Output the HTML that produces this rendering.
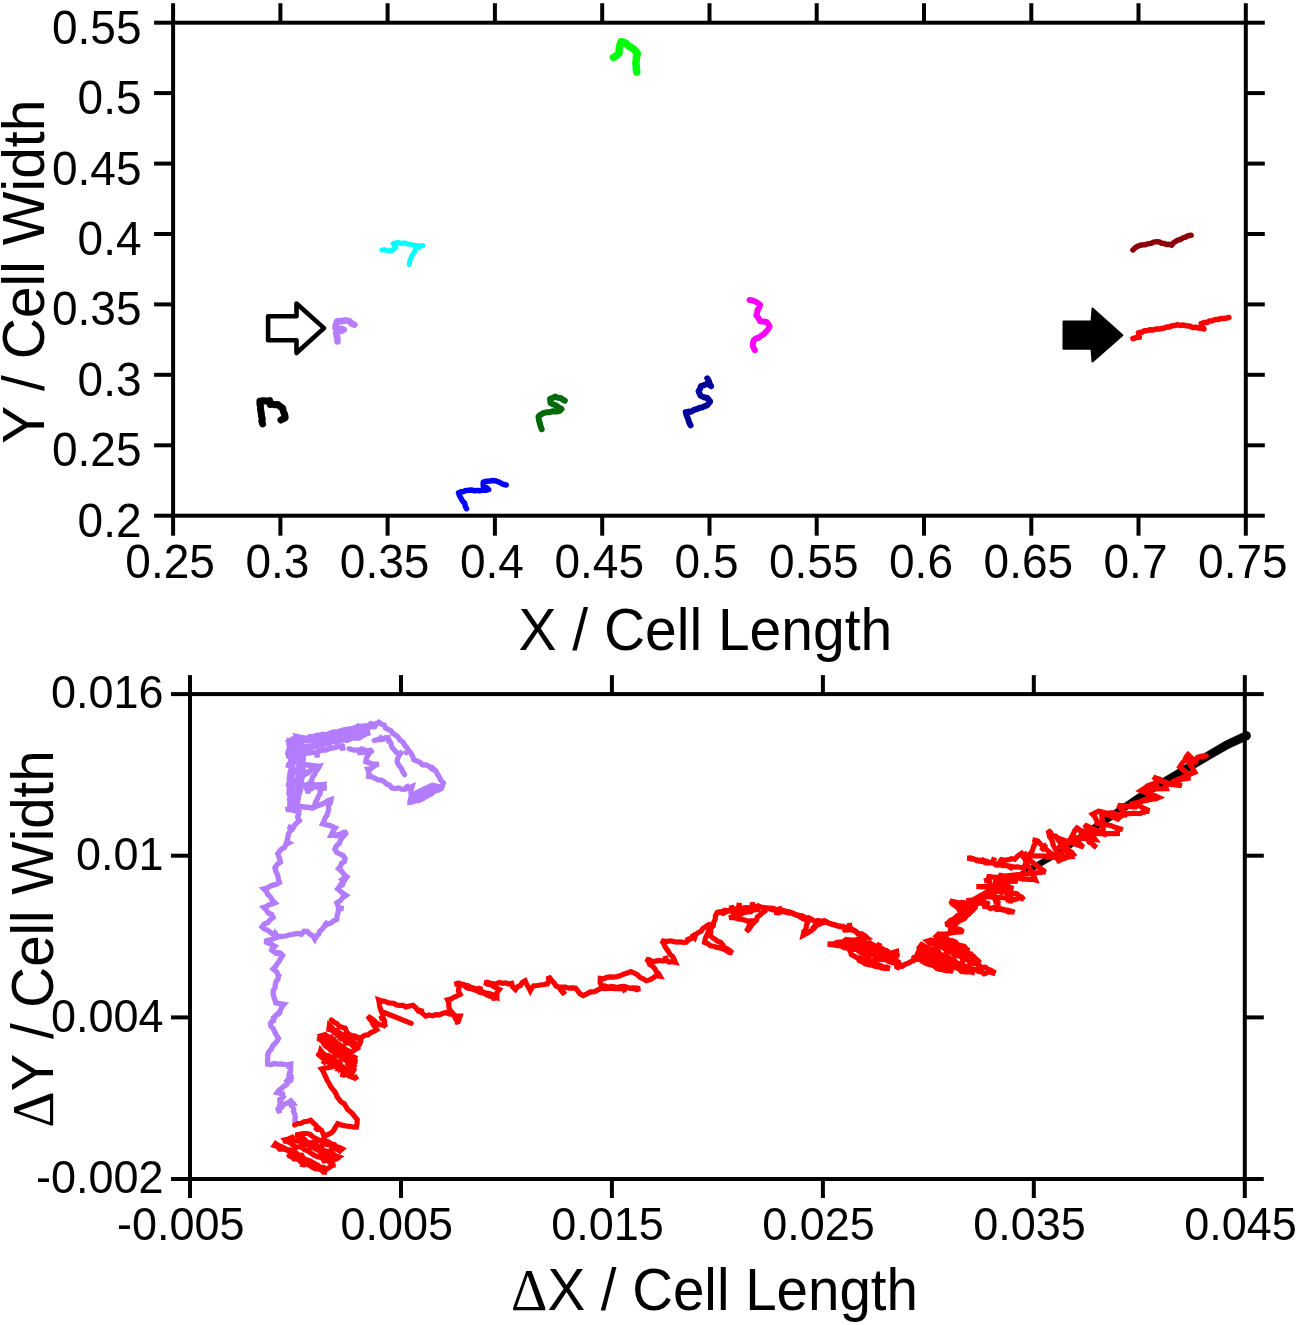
<!DOCTYPE html>
<html><head><meta charset="utf-8"><style>
html,body{margin:0;padding:0;background:#fff;}
svg{display:block;font-family:"Liberation Sans",Arial,sans-serif;}
</style></head><body>
<svg width="1300" height="1325" viewBox="0 0 1300 1325">
<rect width="1300" height="1325" fill="#fff"/>
<polyline points="613.5,57.5 616.5,55.5 619.1,53.2 619.1,49.7 619.6,46.2 621.2,41.8 624.5,42.4 626.8,44.1 628.8,46.2 631.9,47.8 634.7,49.9 637.4,53.7 636.4,56.9 636.3,60.2 635.8,63.4 636.3,66.6 636.3,69.3 636.8,72.0" fill="none" stroke="#00ff08" stroke-width="7.5" stroke-linecap="round" stroke-linejoin="round" />
<polyline points="381.8,249.9 385.1,249.8 388.2,250.8 391.5,250.5 393.8,249.1 395.8,247.2 393.2,243.5 398.0,242.4 401.2,243.3 404.5,243.0 407.7,244.0 410.6,244.3 413.4,245.2 416.3,245.6 419.6,246.0 422.8,245.6 420.3,246.0 418.3,247.9 415.8,248.3 414.2,252.6 412.4,255.2 410.9,258.0 409.8,261.2 409.3,264.5" fill="none" stroke="#00ffff" stroke-width="5" stroke-linecap="round" stroke-linejoin="round" />
<polyline points="354.4,324.7 351.8,323.6 349.8,321.6 347.2,320.5 344.7,320.5 342.2,321.2 339.6,320.9 337.1,321.3 335.9,324.6 335.4,328.0 338.1,328.9 341.1,328.8 343.8,329.8 341.4,330.9 338.7,331.3 336.2,332.3 336.5,335.4 337.5,338.4 337.5,341.6" fill="none" stroke="#b87cff" stroke-width="6.5" stroke-linecap="round" stroke-linejoin="round" />
<polyline points="262.6,423.8 261.8,421.3 262.3,418.7 261.5,416.2 261.2,412.7 260.5,409.2 260.5,406.5 259.9,403.9 259.9,401.2 263.1,400.8 266.4,401.1 269.6,400.6 270.2,404.4 272.7,404.1 275.2,404.8 277.7,404.4 280.0,406.4 282.5,408.2 283.4,411.5 284.7,414.6 285.2,417.8 280.9,420.0" fill="none" stroke="#000000" stroke-width="7" stroke-linecap="round" stroke-linejoin="round" />
<polyline points="466.5,508.7 465.2,506.1 464.7,503.2 462.5,501.0 461.0,498.2 459.5,495.5 458.5,492.7 460.9,491.7 463.5,491.7 465.8,490.4 468.4,490.2 471.2,489.9 473.9,490.7 476.7,490.4 479.5,490.8 482.5,490.1 485.7,490.2 488.7,489.6 486.2,487.4 483.2,485.9 483.2,482.2 486.5,481.2 489.9,481.0 493.0,480.6 496.1,481.0 499.6,482.3 502.8,484.1 506.2,485.0" fill="none" stroke="#0000ff" stroke-width="5.5" stroke-linecap="round" stroke-linejoin="round" />
<polyline points="541.7,429.3 540.6,426.3 539.8,423.3 538.9,419.9 538.5,416.4 540.7,414.7 543.1,413.2 546.5,412.3 550.0,412.2 553.2,411.2 556.5,411.5 559.7,410.8 561.5,409.0 558.6,407.4 556.0,405.3 553.2,404.4 550.5,403.0 550.0,398.8 552.7,398.0 555.1,396.5 557.7,397.7 560.6,397.9 562.6,399.5 564.8,400.7" fill="none" stroke="#006a08" stroke-width="6" stroke-linecap="round" stroke-linejoin="round" />
<polyline points="690.6,425.4 689.1,422.4 688.2,419.1 686.7,415.8 685.7,412.2 688.4,411.6 691.1,411.7 694.1,409.9 697.5,408.8 699.9,407.7 702.5,407.3 704.8,406.0 707.3,405.3 710.2,401.4 707.3,398.0 703.7,397.2 700.4,395.5 698.5,391.1 700.1,388.8 700.9,386.2 704.2,385.1 707.3,383.7 711.2,386.2 709.7,383.7 708.8,380.8 707.3,378.3" fill="none" stroke="#00009a" stroke-width="6" stroke-linecap="round" stroke-linejoin="round" />
<polyline points="749.5,300.0 752.6,300.4 755.4,301.6 757.9,303.0 760.1,304.8 759.2,307.6 757.5,310.1 757.1,312.8 756.4,315.4 758.5,318.1 760.1,321.2 763.6,321.5 767.0,322.2 768.5,324.2 769.6,326.5 768.1,329.4 765.9,331.7 763.6,334.2 760.6,336.0 758.6,337.8 755.8,338.4 753.8,340.2 752.9,343.0 752.7,346.0 754.8,350.2" fill="none" stroke="#ff00ff" stroke-width="6" stroke-linecap="round" stroke-linejoin="round" />
<polyline points="1132.9,249.9 1135.5,247.5 1138.5,245.8 1141.5,245.0 1144.7,244.8 1147.7,243.9 1150.8,243.4 1153.8,242.1 1156.9,241.6 1159.4,242.0 1161.7,243.2 1164.3,243.5 1166.7,244.5 1169.3,244.3 1171.7,245.3 1173.2,243.1 1175.4,241.6 1177.8,240.2 1180.5,239.5 1182.8,237.9 1185.6,237.2 1188.2,235.7 1191.1,235.2" fill="none" stroke="#8c0008" stroke-width="5.5" stroke-linecap="round" stroke-linejoin="round" />
<polyline points="1132.9,338.7 1136.1,337.6 1139.4,337.3 1138.5,332.7 1141.6,332.2 1144.5,330.7 1147.7,330.4 1150.4,329.8 1153.3,329.9 1155.9,329.0 1158.8,329.1 1161.5,328.5 1164.2,328.1 1166.7,327.0 1169.4,326.9 1171.9,325.7 1174.6,325.6 1177.2,324.8 1180.3,325.4 1183.4,325.1 1186.5,325.8 1189.6,326.0 1192.4,327.4 1195.6,327.2 1198.5,328.1 1201.3,328.2 1204.0,329.0 1202.3,326.4 1201.2,323.5 1203.9,322.6 1206.9,322.6 1209.4,321.0 1212.3,320.7 1215.2,319.5 1218.5,319.4 1221.5,318.4 1225.2,318.4 1228.9,317.5" fill="none" stroke="#ff0000" stroke-width="5.5" stroke-linecap="round" stroke-linejoin="round" />
<polygon points="268.1,316.2 296.5,316.2 296.5,303.5 324.0,328.1 296.5,353.0 296.5,340.3 268.1,340.3" fill="none" stroke="#000" stroke-width="4.6" stroke-linejoin="round"/>
<polygon points="1063.5,321.6 1091.5,321.6 1092.5,308.5 1122.4,335.2 1092.5,361.5 1091.5,348.7 1063.5,348.7" fill="#000" stroke="#000" stroke-width="2" stroke-linejoin="round"/>
<polyline points="294.8,1121.2 295.2,1117.9 295.0,1114.6 293.5,1111.5 293.8,1108.2 293.5,1104.9 288.9,1105.6 293.5,1104.1 290.8,1100.8 287.8,1102.9 284.2,1104.2 284.2,1101.6 283.7,1104.7 281.7,1107.2 278.5,1109.0 279.8,1113.3 278.0,1109.2 279.5,1106.1 280.2,1103.0 279.8,1099.7 282.7,1097.3 284.9,1098.4 282.9,1096.6 282.6,1094.0 277.2,1092.7 279.1,1090.2 281.6,1088.4 283.7,1086.3 286.5,1084.8 288.2,1082.1 285.2,1079.1 288.7,1081.8 290.8,1080.4 290.9,1077.1 286.6,1077.1 290.9,1076.7 290.0,1073.9 287.1,1072.8 290.0,1073.3 290.6,1070.6 290.6,1067.4 286.9,1066.3 290.6,1066.8 290.8,1064.1 287.5,1064.6 284.2,1064.4 280.9,1064.0 277.6,1064.1 274.3,1063.5 271.0,1064.6 267.7,1064.1 267.5,1060.9 267.8,1057.8 267.7,1054.6 269.0,1051.6 271.3,1049.2 272.5,1046.1 274.8,1043.6 277.0,1041.2 278.5,1038.3 275.8,1034.2 274.5,1031.5 273.3,1028.7 271.0,1026.5 270.4,1023.4 272.4,1020.7 274.0,1023.3 272.8,1020.4 274.3,1018.0 272.9,1015.3 274.7,1017.4 276.1,1015.1 278.8,1012.9 281.2,1014.9 278.9,1012.8 280.5,1010.0 281.8,1006.8 284.0,1004.3 279.9,1003.6 275.8,1003.0 274.9,999.8 273.8,996.7 273.1,993.5 273.3,990.3 275.1,987.7 275.2,984.5 276.2,981.5 278.0,978.9 278.5,975.8 280.5,977.3 278.5,975.7 276.6,971.8 273.1,969.0 275.4,966.6 277.3,963.8 279.2,961.1 280.9,958.2 282.6,955.4 280.3,953.1 277.2,952.6 276.6,955.7 276.6,952.4 274.1,952.0 271.7,950.0 273.0,947.4 271.4,949.6 274.9,946.2 271.7,944.3 268.2,943.0 264.8,941.5 268.0,940.2 271.3,939.5 274.6,938.4 277.7,936.9" fill="none" stroke="#b27cfc" stroke-width="5.3" stroke-linecap="round" stroke-linejoin="miter" stroke-miterlimit="2.5"/>
<polyline points="277.7,936.9 275.7,934.2 274.9,937.4 275.0,933.8 272.3,933.8 269.9,931.8 267.3,930.1 264.3,929.0 262.0,926.8 264.3,923.9 267.9,922.6 270.2,919.6 273.1,917.5 271.5,914.3 268.1,912.8 266.2,909.8 263.8,907.4 266.7,906.5 269.2,904.7 272.1,903.9 274.9,902.8 272.3,900.3 270.6,897.1 267.9,894.7 266.4,891.4 263.8,888.9 267.1,888.1 270.0,886.2 273.2,885.1 276.5,884.2 279.5,882.5 278.3,878.8 277.7,875.0 275.9,871.5 274.9,867.7 277.2,864.4 280.5,862.2 279.3,857.9 277.7,853.8 279.5,851.1 281.7,849.0 284.6,847.4 285.9,844.4 288.8,842.8 286.7,841.8 287.7,838.2 288.3,834.6 289.9,831.2 292.3,828.6 287.8,826.2 292.7,828.6 294.3,825.6 296.7,822.9 299.4,820.6 297.7,817.3 298.5,813.4 296.5,814.3 298.5,813.4 297.3,810.0 295.1,809.7 297.3,809.7" fill="none" stroke="#b27cfc" stroke-width="5.3" stroke-linecap="round" stroke-linejoin="miter" stroke-miterlimit="2.5"/>
<polyline points="277.7,936.9 281.4,936.3 285.2,936.2 288.8,935.0 291.9,934.5 294.9,933.8 298.0,933.4 301.4,934.2 304.0,931.3 307.2,931.4 309.6,933.9 312.7,935.8 314.6,938.8 315.7,935.8 315.2,939.1 316.3,936.3 318.7,934.3 319.7,931.3 322.1,929.3 323.8,926.8 326.8,924.5 324.4,921.8 327.4,924.1 330.5,923.4 333.3,920.9 336.8,919.4 337.1,915.7 338.2,912.0 338.6,908.3 343.6,908.6 338.6,907.5 336.8,902.8 340.2,900.8 342.7,897.6 346.0,895.4 343.0,893.5 343.7,891.2 342.7,893.4 340.4,891.2 337.7,888.9 339.6,886.6 341.3,884.0 345.0,885.3 341.5,883.8 343.3,881.7 340.3,877.7 343.4,881.5 345.1,879.3 346.9,876.9 344.0,874.3 341.6,871.1 338.6,868.6 340.5,866.3 341.5,863.4 344.4,861.6 345.1,858.5 343.1,855.6 339.8,854.0 336.7,852.4 334.9,849.2 336.4,845.9 339.3,843.5 340.5,840.0 342.5,837.3 344.7,834.7 346.9,832.2 343.6,832.3 340.6,833.8 337.6,835.2 337.2,832.4 337.0,835.2 334.3,835.4 331.0,835.4 332.8,831.5 335.3,828.0 332.3,826.5 329.2,825.3 325.8,824.7 322.6,823.8 324.1,821.0 325.1,818.0 326.8,815.3 328.0,812.2 328.7,809.0 328.4,805.6 330.5,802.8 331.0,799.5 327.8,800.5 325.2,802.7 322.2,804.0 319.1,805.2 316.0,806.4 313.1,808.0 314.8,805.2 315.6,802.1 317.3,799.4 318.3,796.3 320.1,793.6 320.2,790.1 322.9,787.9 326.9,788.1 323.2,787.8 323.7,784.7 320.6,785.6 317.7,787.3 314.1,786.6 311.4,788.8 308.0,788.9 308.2,793.7 307.5,788.9 305.0,790.0 306.8,787.5 307.9,784.7 310.3,782.5 311.8,779.9 312.6,776.8 314.7,774.5 315.6,771.5 317.7,769.2 319.1,766.5 315.7,767.4 312.4,768.6 309.7,771.1 309.5,768.9 309.5,771.4 306.6,772.6 303.1,773.3 306.1,776.7 303.0,773.5 300.0,775.0 301.5,778.2 299.9,775.0" fill="none" stroke="#b27cfc" stroke-width="5.3" stroke-linecap="round" stroke-linejoin="miter" stroke-miterlimit="2.5"/>
<polyline points="292.2,741.1 295.2,740.2 298.4,740.1 301.2,738.4 304.3,738.1 307.4,737.8 310.3,736.5 313.5,736.9 316.4,735.4 319.5,735.2 322.5,734.3 325.8,735.0 325.9,739.6 326.5,734.8 328.7,733.7 331.6,732.6 334.6,731.8 337.8,731.6 340.8,730.8 343.7,729.9 346.8,729.3 349.8,728.8 353.0,728.5 355.8,727.2 358.8,726.3 359.7,723.9 359.2,726.2 362.0,726.3 361.5,729.4 362.0,726.3 365.0,725.8 368.2,725.7 370.9,723.7 374.3,724.6 377.1,723.1 374.6,726.8 371.4,726.6 368.5,727.2 365.9,730.0 362.7,729.5 360.0,730.9 356.7,730.2 353.9,731.3 350.9,732.1 347.7,731.3 345.2,734.0 341.8,732.9 339.0,734.3 340.5,737.5 338.1,734.4 336.0,734.7 333.2,736.0 330.2,736.3 327.2,736.6 324.4,738.1 321.3,738.1 318.5,739.4 315.4,739.7 312.4,739.8 309.4,740.3 306.4,740.7 303.2,740.5 303.0,737.8 302.3,740.7 300.6,742.8 297.6,743.2 294.7,743.8 298.0,748.0 301.1,747.9 303.9,746.2 307.0,746.3 310.1,746.0 313.1,745.2 316.1,744.5 318.9,743.2 321.9,742.3 324.9,742.0 328.0,741.9 330.8,740.3 333.9,739.7 337.1,740.0 340.0,738.9 343.0,738.4 346.0,737.6 349.0,737.2 352.0,736.6 355.2,737.0 357.9,734.8 361.0,734.5 362.3,738.1 361.5,734.4 364.0,733.9 366.9,732.9 370.0,732.7 365.8,734.1 361.9,736.3 359.1,738.0 355.9,737.8 352.8,738.1 349.9,739.4 347.0,740.4 343.7,739.7 340.7,740.5 337.7,741.3 337.1,744.4 337.4,741.5 334.6,741.8 331.4,741.4 328.9,744.3 325.4,743.0 322.8,745.5 319.5,744.7 316.7,746.8 313.4,746.1 310.6,747.6 307.6,748.3 304.5,748.5 301.5,749.3 298.4,749.8 300.6,752.7 303.9,754.2 307.0,753.1 310.2,752.8 313.4,752.2 316.8,752.7 317.2,757.6 317.2,752.5 319.7,750.8 322.8,750.1 326.1,750.0 329.1,748.6 332.3,748.1 335.4,747.3 338.6,746.6 341.8,746.1 343.1,750.5 342.7,746.0" fill="none" stroke="#b27cfc" stroke-width="5.3" stroke-linecap="round" stroke-linejoin="miter" stroke-miterlimit="2.5"/>
<polyline points="303.4,756.6 303.2,759.8 302.9,762.9 302.6,766.0 303.2,769.2 301.2,767.8 303.1,769.8 302.9,772.3 302.1,775.4 301.9,778.6 301.0,781.6 300.6,784.7 300.1,787.9 300.3,791.0 299.1,794.1 298.5,797.2 298.0,800.4 297.1,803.5 296.3,806.6 295.8,809.8 294.9,813.0 294.9,809.9 290.8,808.1 295.0,809.0 295.8,806.9 294.6,803.8 296.3,800.9 295.8,797.8 295.7,794.7 292.0,795.2 295.7,794.5 297.6,791.9 296.6,788.7 297.3,785.7 297.4,782.7 297.7,779.7 298.2,776.7 298.3,773.6 298.2,770.6 298.7,767.6 298.9,764.6 298.5,761.5 299.4,758.5 298.6,755.4 301.8,752.6 300.5,749.5 299.6,746.3 300.7,743.4 300.5,740.3 301.5,737.4 296.4,736.3 297.5,739.5 296.3,742.4 294.8,745.3 296.0,748.5 295.1,751.5 290.2,751.8 295.1,751.6 294.4,754.4 294.1,757.5 294.8,760.6 293.2,763.5 292.5,766.5 294.0,769.6 293.6,772.7 291.8,775.6 292.8,778.7 292.6,781.7 292.2,784.7 291.1,787.7 291.7,790.8 291.0,793.8 291.2,796.8 289.5,799.7 290.9,802.9 290.4,805.9 290.6,809.0 289.8,811.9 289.3,808.9 285.5,809.8 289.3,808.8 289.8,805.8 289.8,802.8 290.8,799.7 288.0,799.8 290.8,799.0 290.1,796.7 288.9,793.6 289.2,790.6 289.5,787.5 288.3,784.5 286.1,783.9 288.3,784.4 289.9,781.4 289.2,778.4 289.7,775.4 290.0,772.3 291.0,769.4 290.8,766.3 286.0,764.6 290.8,766.1 290.1,763.2 290.8,760.2 292.8,760.7 290.9,759.4 290.9,757.1 292.2,754.2 291.2,751.0 291.3,748.0 293.0,745.0 295.2,745.0 293.1,744.2 292.7,742.0 292.7,738.9 289.8,740.7 292.1,741.9 289.1,740.9 288.8,743.8 289.5,747.0 292.7,747.5 289.5,747.9 288.7,750.0 287.8,753.1 288.4,756.3" fill="none" stroke="#b27cfc" stroke-width="5.3" stroke-linecap="round" stroke-linejoin="miter" stroke-miterlimit="2.5"/>
<polyline points="300.0,764.0 319.1,766.5" fill="none" stroke="#b27cfc" stroke-width="5.3" stroke-linecap="round" stroke-linejoin="miter" stroke-miterlimit="2.5"/>
<polyline points="303.0,785.0 323.7,784.7" fill="none" stroke="#b27cfc" stroke-width="5.3" stroke-linecap="round" stroke-linejoin="miter" stroke-miterlimit="2.5"/>
<polyline points="296.0,806.0 313.1,808.0" fill="none" stroke="#b27cfc" stroke-width="5.3" stroke-linecap="round" stroke-linejoin="miter" stroke-miterlimit="2.5"/>
<polyline points="300.0,745.0 310.0,752.0" fill="none" stroke="#b27cfc" stroke-width="5.3" stroke-linecap="round" stroke-linejoin="miter" stroke-miterlimit="2.5"/>
<polyline points="378.8,722.0 381.0,724.0 384.1,725.0 385.5,728.1 388.3,729.4 391.0,730.7 392.7,733.5 395.4,734.9 398.1,737.1 399.8,740.2 402.9,742.0 404.6,745.1 407.0,747.7 408.7,750.8 404.4,753.9 408.8,750.9 411.1,753.4 412.8,756.5 413.8,759.8 417.0,760.9 420.0,762.4 422.6,764.9 426.3,765.0 429.3,766.5 432.3,768.2 430.7,771.1 432.6,768.2 435.7,770.8 437.8,774.6 439.5,777.5 441.0,780.5 443.4,782.9 441.5,788.5 438.7,790.1 435.5,790.8 432.3,791.2 429.0,793.4 425.8,795.6 423.1,798.6 420.0,799.9 416.5,800.0 413.5,801.7 410.2,802.3 410.6,799.2 414.0,797.8 410.7,798.5 411.3,796.1 410.9,792.8 411.1,789.7 412.0,786.6 408.3,788.1 406.1,784.6 407.4,788.1 404.6,789.4 401.5,789.1 398.6,787.9 395.4,788.5 391.9,788.0 389.8,785.3 386.7,784.1 384.3,781.8 381.5,780.2 378.1,780.0 375.1,778.3 372.0,776.9 368.6,776.5 369.1,772.7 367.7,769.1 370.8,768.7 373.2,766.7 375.8,765.0 378.8,764.5 375.5,764.1 372.2,763.8 369.0,762.7 365.8,761.7 366.5,757.9 368.4,754.6 370.5,751.5 372.5,753.5 370.7,750.6 366.8,750.8 363.1,749.7 363.5,754.9 362.6,749.5 359.6,749.8 360.6,754.8 358.8,749.8 356.1,750.1 352.6,749.8 349.2,748.8" fill="none" stroke="#b27cfc" stroke-width="5.3" stroke-linecap="round" stroke-linejoin="miter" stroke-miterlimit="2.5"/>
<polyline points="374.2,740.5 377.6,739.7 381.2,739.4 378.9,736.0 381.6,739.3 384.5,738.2 385.3,740.7 385.4,738.1 388.0,737.7 389.2,740.8 386.4,740.8 389.4,740.9 391.0,743.6 391.7,746.9 394.0,749.6 396.3,752.2 399.1,754.3 402.5,751.5 399.5,754.7 397.8,757.9 397.2,761.7 398.7,765.1 401.1,768.0 402.7,771.4 404.6,774.6" fill="none" stroke="#b27cfc" stroke-width="5.3" stroke-linecap="round" stroke-linejoin="miter" stroke-miterlimit="2.5"/>
<polygon points="415.0,792.0 432.0,784.0 441.0,786.0 432.0,795.0 418.0,802.0 411.0,800.0" fill="#b27cfc" stroke="#b27cfc" stroke-width="3" stroke-linejoin="round"/>
<polygon points="998.7,890.8 1061.1,854.8 1099.9,827.9 1151.1,793.7 1212.2,758.1 1228.9,748.5 1249.3,739.0 1245.7,731.4 1225.1,741.1 1208.2,751.1 1147.3,787.5 1096.1,822.5 1057.9,849.8 996.1,886.4" fill="#000" stroke="#000" stroke-width="0.5" stroke-linejoin="round"/>
<circle cx="1246.5" cy="735.7" r="4.4" fill="#000"/>
<polyline points="294.6,1125.0 297.7,1123.6 301.1,1123.3 304.1,1121.7 307.5,1121.2 310.7,1120.3 313.0,1122.7 315.5,1124.9 317.6,1127.6 315.1,1130.6 318.1,1127.7 320.5,1129.4 321.3,1127.7 320.7,1129.4 322.5,1132.2 324.2,1136.4" fill="none" stroke="#ff0000" stroke-width="5.2" stroke-linecap="round" stroke-linejoin="miter" stroke-miterlimit="2.5"/>
<polyline points="323.3,1139.3 325.9,1140.9 328.7,1142.0 331.1,1144.0 334.2,1144.5 336.5,1146.8 339.5,1147.5 342.2,1148.9 340.2,1150.6 338.6,1147.6 340.0,1150.9 337.1,1149.7 334.3,1148.3 332.2,1145.5 329.1,1144.7 329.9,1140.6 328.6,1144.7 325.8,1144.2 323.3,1142.1 321.5,1146.1 322.8,1141.8 320.4,1141.0 317.6,1139.4 314.8,1138.1 312.2,1136.3 309.8,1134.2 306.6,1133.5 302.9,1133.5 299.4,1134.2 295.8,1135.1 298.4,1136.6 301.1,1138.1 304.1,1138.8 306.2,1141.3 308.7,1143.0 312.3,1142.7 315.3,1143.4 317.2,1146.3 319.6,1148.3 319.8,1144.9 319.6,1148.5 322.4,1149.4 325.0,1151.0 328.2,1151.4 330.9,1152.6 332.0,1148.2 331.5,1153.0 333.5,1154.1 335.9,1156.0 338.8,1157.0 336.7,1158.4 339.4,1157.4 335.2,1159.5 332.3,1158.4 330.0,1156.2 331.3,1153.7 329.3,1156.2 327.1,1155.4 323.9,1155.0 321.2,1153.4 319.2,1150.8 320.0,1148.1 318.7,1150.4 316.5,1149.3 313.8,1148.0 315.7,1143.7 313.8,1147.7 310.9,1147.2 308.6,1145.0 305.5,1144.3 303.0,1142.7 306.2,1139.3 302.5,1142.3 300.1,1141.5 297.2,1140.7 293.5,1141.2 292.0,1137.5 288.5,1139.0 284.8,1139.9 286.5,1142.3 284.1,1140.2 287.5,1141.7 290.5,1142.9 292.9,1145.1 295.5,1147.0 293.8,1150.1 295.9,1147.3 299.2,1146.7 302.3,1147.5 304.7,1149.8 307.7,1150.9 310.4,1152.7 313.0,1154.5 315.8,1156.0 318.9,1157.0 322.0,1157.8 324.0,1160.9 327.9,1160.3 330.2,1162.7 332.9,1164.4 332.9,1167.3 333.3,1164.6 329.8,1167.2 326.3,1169.4 323.8,1167.5 320.3,1167.2 317.8,1165.3 315.0,1163.8 312.3,1162.2 309.5,1160.7 306.4,1159.8 303.6,1158.4 303.1,1160.9 303.4,1158.4 301.7,1155.2 298.3,1154.9 295.8,1152.8 292.9,1151.4 290.1,1150.1 286.8,1149.6 284.0,1148.1 281.3,1146.5 278.3,1145.4 275.7,1143.6 274.4,1145.5 277.4,1146.4 279.5,1149.1 283.0,1149.0 286.1,1149.7 288.9,1151.1 291.1,1153.6 293.4,1155.9 296.3,1156.9 299.3,1158.0 301.6,1160.1 305.0,1160.4 307.7,1161.8 309.9,1164.3 312.6,1165.9 315.5,1166.9 318.4,1168.0 321.3,1169.1 323.8,1171.0 326.7,1172.2 323.5,1172.2 321.1,1169.8 318.2,1169.0 315.1,1168.8 312.2,1167.4 309.6,1165.2 306.5,1164.2 303.6,1162.9 302.2,1166.9 302.8,1162.8 300.5,1161.6 298.3,1158.9 294.7,1158.8 294.3,1161.3 294.3,1158.4 292.0,1157.1 289.1,1155.6" fill="none" stroke="#ff0000" stroke-width="5.2" stroke-linecap="round" stroke-linejoin="miter" stroke-miterlimit="2.5"/>
<polyline points="324.2,1136.4 327.6,1134.7 331.0,1133.0 333.8,1130.3 335.6,1126.8 337.8,1123.7 342.8,1125.4 346.2,1126.0 349.6,1126.3 353.0,1127.0 356.4,1127.1 357.1,1123.3 357.2,1119.5 355.0,1116.9 352.9,1114.1 350.5,1111.7 347.7,1109.7 346.0,1106.7 344.3,1103.7 341.2,1102.0 339.1,1099.3 337.0,1096.7 335.9,1093.7 334.3,1091.0 332.2,1088.6 330.4,1086.1 329.0,1083.2 327.3,1080.6 326.1,1077.7 324.6,1074.8 323.4,1071.7 321.5,1069.0 324.7,1068.0 328.1,1067.7 331.3,1066.9 334.6,1066.3" fill="none" stroke="#ff0000" stroke-width="5.2" stroke-linecap="round" stroke-linejoin="miter" stroke-miterlimit="2.5"/>
<polyline points="331.4,1020.0 333.9,1022.1 336.8,1023.6 339.0,1026.1 342.1,1027.3 345.3,1028.4 346.7,1032.0 348.9,1034.6 352.2,1035.5 355.8,1036.1 358.1,1038.4 360.6,1040.5 358.7,1046.2 361.1,1040.5 358.4,1045.7 355.7,1043.8 353.1,1042.0 351.2,1039.2 347.4,1039.0 345.5,1036.1 342.6,1034.6 339.7,1033.2 337.5,1030.8 334.0,1030.1 331.8,1027.6 329.4,1025.4 328.9,1029.4 332.2,1030.1 334.2,1032.6 336.7,1034.3 338.9,1036.5 341.0,1038.9 344.4,1039.4 345.7,1042.8 349.5,1042.8 351.9,1044.7 354.1,1047.0 356.6,1048.8 353.6,1050.5 350.9,1052.7 348.4,1050.8 345.4,1049.5 343.3,1047.0 340.6,1045.4 337.8,1043.9 335.7,1041.4 332.7,1040.2 333.8,1036.8 332.1,1039.9 330.9,1037.2 327.4,1036.8 323.7,1041.5 327.3,1036.3 325.1,1034.6 321.5,1035.7 323.8,1037.8 325.9,1040.0 328.8,1041.2 331.1,1043.3 333.9,1044.6 335.8,1041.6 334.6,1044.8 336.6,1046.1 338.9,1048.2 340.6,1050.9 343.9,1051.6 346.1,1053.8 349.4,1054.4 351.1,1057.2 354.0,1058.5 355.9,1055.2 354.3,1058.8 354.4,1061.1 357.5,1061.6 354.4,1061.5 351.8,1059.4 347.8,1059.6 347.1,1055.1 344.5,1053.4 341.2,1052.6 338.8,1050.5 336.2,1048.6 337.0,1044.8 335.7,1048.4 333.5,1047.0 330.9,1045.2 328.5,1043.2 326.4,1040.7 324.2,1038.4 321.2,1037.2 318.4,1041.6 320.9,1037.1 318.3,1035.8 320.8,1038.1 322.2,1041.1 323.9,1043.9 326.0,1046.5 328.7,1048.0 330.7,1050.4 333.7,1051.5 335.3,1054.5 338.3,1055.5 340.8,1057.3 343.3,1059.0 346.2,1056.0 343.7,1059.1 346.0,1060.4 348.1,1062.8 351.2,1058.8 348.5,1063.4 350.9,1064.2 353.5,1065.8 350.0,1068.9 353.7,1065.8 354.1,1069.4 352.4,1072.6 350.0,1070.3 347.4,1068.5 344.0,1067.7 341.2,1066.0 339.7,1062.6 336.5,1061.6 334.2,1059.2 331.5,1057.4 328.7,1055.7 325.2,1055.2 322.7,1053.0 320.7,1050.4 319.8,1053.6 321.5,1056.4 325.7,1055.7 327.4,1058.6 329.6,1060.8 331.5,1063.3 334.9,1063.9 337.5,1065.5 339.0,1068.6 342.3,1064.2 339.3,1068.7 342.6,1068.7 344.6,1071.1 346.7,1073.5 350.5,1073.4 351.7,1076.9 354.6,1078.0 357.6,1076.1 355.0,1078.1 352.0,1076.4 348.9,1076.0 346.3,1074.4 343.9,1072.4 342.3,1077.2 343.1,1072.0 341.9,1069.9 343.0,1066.5 341.7,1069.7 338.9,1068.7 336.3,1067.1 333.3,1066.0 334.2,1063.3 333.1,1065.6 330.5,1064.5 328.4,1062.1 326.2,1059.8 322.8,1064.2 326.1,1059.6 323.3,1058.6 320.9,1056.6 318.5,1054.7" fill="none" stroke="#ff0000" stroke-width="5.2" stroke-linecap="round" stroke-linejoin="miter" stroke-miterlimit="2.5"/>
<polyline points="356.0,1038.0 358.7,1037.8 362.0,1037.2 364.8,1035.2 368.2,1034.7 370.8,1032.5 373.9,1031.4 376.8,1029.7 375.0,1027.0 373.1,1024.3 371.6,1021.3 369.6,1018.8 367.7,1016.1 370.9,1018.2 374.1,1020.5 376.8,1023.3 379.7,1024.7 383.2,1024.8 385.8,1027.0 384.4,1024.1 384.6,1020.8 383.1,1017.9 379.5,1018.6 382.9,1017.1 382.8,1014.7 381.4,1011.8 380.4,1008.8 379.6,1005.8 379.3,1002.8 378.6,999.8 381.5,1000.9 384.7,1001.2 387.6,1002.6 390.6,1003.2 393.8,1003.4 396.6,1005.0 399.7,1005.4 403.0,1005.3 405.8,1007.0 409.4,1006.0 413.0,1005.2 415.5,1007.4 417.8,1009.9 416.1,1011.8 418.1,1010.6 420.5,1011.9 421.8,1008.5 421.2,1012.1 423.1,1013.9 425.7,1016.1 428.9,1015.0 432.5,1015.7 435.7,1014.6 439.2,1014.8 442.4,1013.5 445.6,1012.5 449.1,1013.9 452.8,1014.4 456.3,1016.0 460.1,1016.1 458.3,1021.5 455.2,1022.0 458.2,1022.4 455.9,1019.4 454.6,1016.5 453.2,1013.6 451.0,1011.4 449.3,1008.8 448.8,1005.8 448.8,1002.7 447.5,999.8 450.9,999.0 453.9,997.2 457.0,995.8 460.1,994.3 458.4,990.9 459.0,987.1 458.3,983.5 454.2,984.3 458.3,983.3 461.7,984.2 464.6,985.9 467.3,988.0 470.7,988.6 473.8,989.8 477.2,990.6 480.0,992.5 483.6,993.0 486.7,994.9 490.1,996.2 493.6,997.0 497.0,998.0 493.5,998.3 491.3,995.3 488.4,994.2 485.4,993.2 482.6,991.8 479.4,991.3 476.5,990.1 473.9,988.1 470.8,987.4 468.1,985.6 465.0,985.0 462.0,984.0 464.8,985.3 467.8,986.3 470.7,987.4 473.6,988.3 476.8,988.7 479.7,989.9 480.9,986.3 479.7,990.1 482.2,992.0 485.2,992.8 488.3,993.3 491.3,994.3 494.2,995.3 496.9,997.0 496.9,992.8 499.4,989.5 496.5,988.0 493.5,986.6 490.9,984.7 487.5,984.3 484.6,982.7 487.6,982.1 490.6,983.3 493.6,983.8 496.6,983.5 499.7,982.5 502.7,983.4 505.7,983.0 508.7,984.0 511.7,983.3 512.7,986.9 515.4,989.5 517.4,986.9 520.5,985.4 522.3,982.5 525.2,980.8 526.7,984.2 528.5,987.4 530.2,990.7 531.6,988.0 533.8,985.8 537.2,985.5 540.6,985.0 544.0,984.5 547.4,983.9 548.7,980.3 548.6,976.5 550.6,978.8 552.3,981.2 554.5,983.3 555.9,986.0 559.1,987.2 560.7,989.9 563.2,991.6 564.6,994.4 562.4,992.0 560.6,989.4 558.5,987.0 561.9,987.1 565.4,987.0 568.8,988.1 572.3,987.8 575.7,988.2 577.9,991.0 579.9,993.8 583.1,995.6 586.8,993.8 590.5,991.9 594.5,991.6 598.0,989.9 601.5,988.2 604.7,988.7 607.9,988.4 611.1,988.1 614.3,988.6 617.5,988.6 620.7,988.5 624.0,989.3 624.2,986.9 624.7,989.3 627.2,987.5 630.4,988.2 633.6,987.9 636.8,988.2 640.0,988.5 636.7,989.7 633.6,988.4 630.3,988.4 627.2,987.2 624.0,986.4 620.8,986.6 617.5,987.5 614.3,986.9 611.1,986.3 607.9,987.2 604.7,985.9 601.5,986.0 600.1,982.3 600.3,978.4 603.7,978.8 606.8,977.3 610.1,976.9 613.5,977.1 616.8,976.6 620.0,975.9 623.5,974.2 627.2,973.1 630.8,971.5 634.1,973.0 637.3,974.7 639.9,977.4 643.3,978.7 646.2,980.8 649.7,979.9 653.0,978.1 656.0,975.7 660.0,976.2 658.4,973.5 656.1,971.3 654.7,968.4 652.5,966.1 649.7,964.4 648.5,961.4 646.2,959.2 649.4,959.7 652.5,961.7 655.8,961.1 659.2,960.5 662.4,961.0 665.7,960.6 665.1,956.2 666.7,960.7 668.9,962.0 672.2,961.7 675.4,962.3 674.1,959.3 672.6,956.5 670.0,954.4 668.5,951.5 666.6,948.9 664.8,946.3 663.6,943.2 661.5,940.8 664.6,941.2 667.7,941.3 670.8,940.8 673.8,941.6 676.9,942.1 680.0,941.8 683.1,942.4 686.2,942.3 688.4,940.1 687.3,937.1 688.9,939.6 691.2,938.7 694.0,937.4 692.1,933.5 694.8,937.3 695.8,934.6 698.1,932.6 701.0,931.3 702.8,928.6 705.4,926.8 708.0,925.1 710.8,923.8 709.1,926.7 708.9,930.0 712.1,932.4 708.8,930.2 707.8,933.1 706.4,936.1 705.2,939.1 704.6,942.3 707.7,943.5 710.4,945.7 713.7,946.2 716.8,947.4 720.2,947.8 723.2,949.0 726.2,950.5 729.0,952.3 732.3,953.0 730.0,950.8 727.4,949.0 724.5,947.5 722.6,944.7 720.5,942.3 717.4,941.1 714.9,939.1 712.1,937.5 710.0,935.0 710.8,931.8 710.6,928.3 713.3,925.7 713.7,922.3 715.2,919.4 715.4,916.0 716.9,913.0 719.9,912.1 723.2,913.5 726.1,912.0 729.1,910.5 732.3,911.6 735.3,910.3 738.4,910.7 741.5,910.1 744.6,910.0 747.7,910.1 750.7,909.3 753.8,908.4 757.0,909.3 760.0,908.5 756.9,909.3 755.0,904.8 756.4,909.5 753.6,909.6 750.9,911.7 747.6,912.0 744.3,912.3 741.5,914.0 738.5,915.3 735.2,915.3 732.2,916.6 729.2,917.7 732.4,917.7 735.5,918.0 738.5,919.0 741.6,919.4 744.6,920.0 747.6,921.0 750.8,920.8 749.5,924.5 748.3,928.2 746.2,931.5 748.6,929.5 750.5,927.1 752.2,924.5 754.3,922.3 756.5,920.2 757.4,916.9 760.0,915.1 762.2,912.9 764.9,911.2 766.2,908.3 769.2,908.6 772.1,909.7 775.2,910.1 778.2,910.5 778.0,915.3 778.2,910.6 781.1,911.6 784.2,911.6 787.1,912.7 790.1,913.1 793.2,913.2 796.2,914.9 799.3,916.3 802.1,918.3 805.3,919.6 808.0,921.8 806.4,925.1 806.0,928.8 804.0,931.9 801.6,931.9 803.8,932.1 803.1,935.4 806.2,933.8 809.2,932.1 812.0,930.2 814.0,927.1 816.7,929.1 814.2,927.1 816.8,925.1 820.1,923.9 818.0,921.3 820.1,923.8 822.8,921.8 821.3,919.9 823.6,921.7 825.9,921.8 826.3,924.6 826.5,921.8 828.7,923.1 831.7,923.9 834.6,924.8 837.5,925.7 840.4,926.5 843.5,926.7 846.4,927.7 849.4,928.2 849.3,923.1 850.3,928.3 852.3,929.2 855.2,931.0 858.0,933.0 861.1,934.5 864.4,935.7 867.1,937.8 864.1,938.4 861.1,939.0 858.0,939.4 855.0,940.1 851.9,940.2 848.8,939.7 845.9,941.2 842.9,942.1 839.8,942.1 836.8,942.3 833.9,944.2 830.8,943.9 827.7,944.0 831.0,944.6 834.3,945.0 837.5,945.6 840.9,945.7 843.9,947.6 847.3,947.8 847.3,943.3 847.9,947.9 850.6,948.2 853.9,948.7 857.2,948.9 859.2,951.5 861.9,953.3 864.8,954.8 867.7,956.3 869.3,959.4 872.0,961.2 875.1,960.0 878.2,959.0 881.1,957.2 884.7,957.3 887.2,954.7 890.5,954.0 893.4,952.4 896.6,951.4 896.9,954.8 895.6,958.3 891.4,958.1 895.6,958.5 896.7,961.7 897.0,965.2 896.6,968.6 899.2,966.7 902.4,966.2 905.0,964.3 908.0,963.3 910.7,961.7 913.5,960.2 915.7,961.7 914.1,960.1 916.3,958.8 916.2,956.2 916.4,958.5 919.6,957.8 921.6,954.8 924.9,953.8 927.4,951.5 930.2,949.7 933.6,949.0 936.0,946.5" fill="none" stroke="#ff0000" stroke-width="5.2" stroke-linecap="round" stroke-linejoin="miter" stroke-miterlimit="2.5"/>
<polyline points="384.0,1012.5 411.2,1023.3" fill="none" stroke="#ff0000" stroke-width="5.2" stroke-linecap="round" stroke-linejoin="miter" stroke-miterlimit="2.5"/>
<polyline points="857.6,939.8 860.7,940.2 863.3,942.3 866.2,943.5 869.8,942.7 872.4,944.6 875.2,945.9 878.3,946.5 880.0,943.0 878.5,946.7 881.1,948.0 883.8,949.7 886.8,950.5 889.3,952.8 892.7,953.7 895.8,955.0 893.4,957.3 895.9,955.1 897.8,958.0 895.2,955.8 891.7,956.1 888.6,955.6 886.2,952.9 883.0,952.5 879.9,951.8 876.8,950.9 874.0,949.4 871.0,948.6 872.8,945.5 870.7,948.5 868.4,946.4 864.7,947.5 862.0,945.6 859.4,943.6 858.4,945.9 859.0,943.5 856.8,941.5 853.9,945.4 856.0,941.3 853.1,942.4 851.2,945.2 852.9,942.1 850.1,941.5 847.2,940.3 844.5,938.6 845.8,942.9 848.6,944.1 852.0,943.9 854.3,946.7 857.4,947.4 860.2,948.7 863.2,949.5 866.0,951.0 869.1,951.6 872.1,952.5 873.8,948.5 872.4,952.7 874.7,954.5 877.8,955.0 881.0,955.5 883.7,957.0 886.7,957.9 889.7,958.8 892.6,959.8 895.5,961.0 898.5,962.0 900.2,965.6 897.3,964.6 894.6,963.0 891.5,962.4 888.7,961.3 886.0,959.6 882.7,959.6 879.6,959.2 877.1,957.0 874.4,955.5 871.4,954.6 868.4,953.9 865.8,951.9 862.8,951.1 859.4,951.5 856.9,949.5 853.7,949.2 851.0,947.6 848.0,946.6 848.4,949.6 847.3,946.3 849.9,950.6 851.4,954.7 854.2,956.1 856.9,957.7 860.1,958.1 863.0,959.4 866.0,960.1 868.6,962.1 872.0,962.0 874.9,963.2 877.7,964.5 880.6,965.7 883.4,967.0 886.7,967.0 889.5,968.6 885.9,968.5 882.4,968.1 879.0,966.9 875.5,966.5 872.1,965.3 868.6,964.8 865.2,963.9 862.3,961.7 859.1,960.5" fill="none" stroke="#ff0000" stroke-width="5.2" stroke-linecap="round" stroke-linejoin="miter" stroke-miterlimit="2.5"/>
<polyline points="718.0,912.0 721.5,912.2 724.7,910.3 728.3,910.8 731.7,910.1 731.3,905.6 732.6,910.0 735.0,909.0 738.4,908.3 739.3,903.0 739.4,908.3 741.8,908.4 745.2,907.7 748.7,907.9 752.0,907.0 752.4,902.4 753.0,907.0 755.0,907.2 758.1,905.9 761.0,907.1 764.0,907.5 767.0,907.8 770.0,908.0 773.4,908.3 776.5,909.9 776.7,915.0 776.9,910.0 779.8,910.8 779.1,906.6 780.8,910.9 783.4,910.5 786.7,911.4 790.0,912.0 792.8,913.6 795.8,914.9 799.2,915.2 802.0,916.7 803.7,914.1 802.7,916.8 805.0,918.0 808.5,917.7 811.6,919.3 814.5,921.2 818.0,921.0 818.0,923.6 818.5,921.0 821.5,921.4 825.0,921.8 828.3,923.1 831.6,924.2 835.0,925.0 838.4,926.1 842.0,926.3 841.9,929.2 842.5,926.3 844.6,930.1 848.4,929.8 852.0,930.0 855.4,931.2 858.1,934.0 862.0,933.9 865.0,936.0 862.0,940.8 865.4,936.1" fill="none" stroke="#ff0000" stroke-width="5.2" stroke-linecap="round" stroke-linejoin="miter" stroke-miterlimit="2.5"/>
<polyline points="940.7,935.1 943.3,937.4 940.1,942.4 944.2,937.6 946.6,938.2 949.2,940.4 952.7,940.9 955.7,942.1 957.8,944.7 961.0,945.5 964.2,946.3 966.3,948.7 968.7,950.8 965.6,949.8 962.8,948.2 960.0,946.6 956.7,946.2 954.3,943.7 952.1,940.9 948.4,941.2 945.7,939.3 942.6,938.4 939.6,937.3 936.7,935.9 940.1,932.6 936.7,935.7 936.3,938.9 939.5,939.6 941.2,937.2 939.9,939.9 942.4,940.8 941.2,943.8 942.4,940.8 944.9,942.9 948.0,943.7 951.0,944.7 953.7,946.4 956.3,948.3 959.1,949.8 962.2,950.5 963.7,946.4 962.4,950.7 965.0,952.1 968.2,952.6 970.3,955.5 970.6,952.0 971.2,955.8 973.5,956.2 975.4,958.5 977.9,960.4 979.9,962.7 976.8,961.9 974.0,960.4 971.1,959.1 968.4,957.5 965.3,956.6 962.9,954.3 960.1,952.8 956.7,952.6 958.5,950.7 956.3,952.5 953.7,951.6 950.8,950.4 948.3,948.2 946.2,953.8 947.6,948.1 945.1,947.6 942.6,945.5 939.8,943.9 936.9,942.6 934.3,940.8 931.2,940.0 927.4,941.1 929.8,943.2 933.6,942.2 935.5,945.2 938.0,947.1 941.4,946.9 944.1,948.2 946.4,950.5 949.4,951.2 952.2,952.4 954.2,955.1 957.3,955.7 960.4,956.2 963.2,957.4 960.9,960.0 963.5,957.6 965.7,959.0 968.4,960.5 970.6,962.9 973.6,963.5 977.1,963.3 979.4,965.5 981.8,967.6 985.3,967.2 987.7,969.1 990.6,970.1 993.1,971.7 992.1,975.4 993.4,972.0 989.8,970.8 987.0,972.6 984.1,973.8 981.7,972.0 978.6,971.6 976.2,969.6 978.9,967.4 976.1,969.4 973.1,969.1 970.1,968.4 967.8,966.4 964.5,966.2 962.3,963.8 962.7,960.6 961.7,963.5 959.0,963.9 956.3,962.6 953.9,960.6 956.0,958.6 953.4,960.4 951.0,959.6 948.7,957.4 946.6,955.0 943.2,955.1 940.1,954.6 938.3,951.4 935.0,951.4 932.5,949.8 929.4,949.1 926.9,947.4 924.2,946.1 921.6,944.7 919.6,947.3 922.1,949.2 925.2,949.7 927.6,951.8 930.4,952.9 933.6,953.3 935.6,956.3 938.9,956.5 941.5,958.1 944.6,958.7 946.8,961.2 950.2,957.2 947.4,961.2 950.2,961.2 952.7,963.0 955.7,963.7 958.2,965.6 961.3,966.4 963.7,968.3 966.7,969.1 969.2,971.0 972.1,972.2 975.0,973.1 971.6,971.9 968.0,971.8 964.5,971.8 961.2,971.3 958.9,968.8 955.9,967.8 952.9,966.8 950.2,965.1 947.7,963.2 944.7,962.1 941.7,961.1 939.0,965.5 941.4,960.9 939.2,958.9 935.5,959.5 933.1,957.2 930.2,956.1 927.2,955.1 924.9,952.5 922.5,950.3 919.7,953.6 921.9,949.9 918.9,950.5 917.1,954.7 919.8,956.2 922.8,956.9 925.4,958.6 928.5,959.3 925.8,961.7 929.4,959.7 931.3,960.4 934.0,961.8 936.5,963.5 939.4,964.6 940.2,959.7 939.6,965.0 941.7,966.9 944.0,963.2 942.1,967.3 944.5,968.1 947.7,968.4 950.4,969.9 953.0,971.4 949.5,970.7 946.0,970.6 942.6,969.7 939.1,969.2 936.2,968.0 933.9,965.6 930.9,964.9 927.8,964.1 925.0,962.8 922.2,961.4 919.8,959.3 916.5,959.1 913.8,957.4" fill="none" stroke="#ff0000" stroke-width="5.2" stroke-linecap="round" stroke-linejoin="miter" stroke-miterlimit="2.5"/>
<polyline points="931.1,944.0 933.3,941.3 936.3,939.4 938.0,936.2 940.9,934.2 944.1,934.2 945.3,939.5 945.0,934.2 947.3,933.8 950.4,933.2 950.4,927.8 950.4,933.1 953.5,932.5 956.7,932.1 959.8,932.0 963.0,931.7 960.5,929.7 957.4,928.9 954.3,933.4 956.9,928.8 954.3,928.1 951.5,926.9 955.1,923.0 950.7,926.7 948.9,925.1 945.8,924.3 948.3,922.7 950.4,920.4 953.3,919.3 955.7,917.3 957.8,915.2 960.8,914.1 963.0,912.0 959.8,911.0 958.1,908.1 955.8,906.0 953.0,904.4 950.8,902.2 953.8,903.2 956.9,902.8 960.1,902.6 963.2,902.3 966.2,903.5 969.3,903.7 968.4,897.9 969.4,903.7 972.3,904.8 975.4,904.6 972.9,906.5 976.3,910.1 972.7,907.1 971.1,909.1 967.9,910.0 965.9,912.5 963.1,914.0 961.0,916.2 958.6,918.2 956.6,920.6 953.8,922.0 952.0,924.7 949.2,926.2 952.5,925.0 955.8,924.0 958.4,921.4 961.5,920.0 964.6,918.5 966.5,915.8 969.2,913.9 971.4,911.4 973.7,909.0 970.2,904.9 973.7,908.8 975.4,906.2 972.3,905.1 969.0,905.2 965.9,903.9 962.7,903.6 959.4,903.5 956.3,902.3 953.2,901.6 950.9,904.1 952.5,901.5 950.0,900.8 952.5,902.7 955.9,902.8 958.3,904.9 961.5,905.3 963.8,907.7 966.6,906.5 969.6,905.9 972.4,904.9 975.4,904.2 977.4,901.2 982.1,903.6 978.0,900.6 980.6,899.5 983.0,897.0 986.2,895.7 989.4,894.2 992.2,892.2 995.4,890.8 998.4,891.4 999.7,888.6 998.6,891.4 1001.5,891.8 1002.4,894.7 1001.9,891.8 1004.6,891.8 1007.7,892.7 1010.7,893.3 1013.8,893.4 1016.9,893.8 1019.1,895.8 1021.9,897.2 1023.8,899.6 1020.7,897.8 1017.5,898.6 1014.1,899.9 1011.1,897.9 1010.1,903.4 1010.3,897.9 1007.9,897.3 1008.3,902.1 1007.3,897.2 1004.7,897.8 1001.5,897.5 998.3,897.5 995.1,897.0 991.9,897.0 991.9,893.0 990.9,896.9 988.7,896.5 985.4,897.0 982.3,896.2 982.7,899.7 983.7,903.1 984.6,906.5 987.7,906.7 990.4,908.6 993.7,907.5 996.5,909.5 999.6,909.1 1002.6,910.0 1005.6,910.4 1008.4,912.1 1011.6,911.7 1014.6,912.3 1011.4,911.3 1008.2,910.4 1004.9,909.8 1001.6,908.9 998.5,907.7 997.9,904.4 997.0,901.3 993.3,902.3 996.9,901.1 994.7,898.7 994.4,895.4 992.6,892.5 991.9,889.3 990.4,886.4 989.9,883.1 989.0,880.0 984.1,881.0 988.7,879.7 987.7,877.0 986.9,876.5 990.2,876.7 993.5,877.2 996.8,877.4 1000.1,877.9 1001.3,873.2 1001.0,877.9 1003.4,877.2 1006.7,877.4 1010.0,877.7 1013.1,878.3 1016.4,878.0 1019.6,878.2 1022.7,879.1 1025.9,879.2 1029.0,879.4 1032.3,879.2 1035.4,880.0 1034.2,876.9 1032.4,874.0 1030.8,871.2 1029.7,868.0 1027.6,865.3 1026.0,862.4 1025.0,859.2 1023.1,856.4 1027.4,852.8 1023.0,855.9 1021.5,853.5 1017.7,856.0 1014.6,859.2 1011.6,858.7 1008.6,859.7 1005.6,860.1 1002.6,859.8 999.6,859.2 1002.0,862.7 1004.2,866.2 1001.2,865.0 998.0,865.0 999.5,862.4 997.2,865.0 995.0,863.9 992.0,862.8 988.9,862.6 985.6,862.9 982.7,861.6 984.5,858.1 982.6,861.5 979.5,861.2 976.6,859.7 973.5,859.2 970.4,858.6 967.3,858.1 970.6,857.9 973.7,858.8 976.6,860.5 979.9,860.2 982.9,861.4 986.2,861.1 989.2,862.4 992.3,863.0 994.5,857.5 993.1,863.1 995.4,863.8 998.6,864.2 1001.8,864.3 1004.9,865.4 1008.0,865.8 1011.2,866.5 1009.6,869.9 1011.3,866.5 1014.3,867.1 1017.6,866.8 1020.7,867.4 1023.8,868.5 1024.6,865.5 1026.2,862.9 1028.0,860.4 1028.7,857.4 1029.6,854.4 1031.7,852.0 1032.8,849.1 1033.7,846.2 1035.3,843.6 1036.5,840.8 1032.5,839.7 1036.6,840.4 1039.2,842.5 1041.3,845.0 1044.3,846.4 1041.2,850.7 1044.7,846.6 1046.0,849.3 1048.6,851.2 1051.0,853.3 1047.7,855.7 1051.4,853.8 1053.1,855.8 1056.1,857.2 1058.0,859.8 1060.8,861.5 1059.6,858.7 1059.1,855.6 1057.0,853.1 1056.1,850.2 1054.5,847.6 1053.1,844.8 1052.5,841.8 1051.3,838.9 1049.5,836.4 1049.0,833.3 1048.0,830.4 1050.5,832.4 1051.9,835.6 1055.7,836.2 1057.6,838.9 1059.4,841.6 1061.6,843.9 1058.5,848.5 1062.0,844.4 1063.7,846.4 1067.1,847.4 1068.8,850.3 1071.5,852.1 1073.5,854.6 1070.3,856.4 1066.8,857.4 1067.4,854.5 1066.0,857.7 1063.4,858.8 1060.0,860.0 1060.6,856.7 1061.9,853.6 1063.1,850.5 1064.8,847.6 1066.2,844.6 1068.3,842.0 1070.2,839.3 1071.9,836.5 1073.4,833.5 1074.8,830.5 1077.0,828.0 1079.6,829.8 1081.0,832.7 1083.8,834.3 1086.0,836.4 1087.8,839.0 1089.1,842.1 1092.0,843.5 1094.3,845.6 1096.5,847.7 1093.9,845.7 1091.8,843.2 1090.5,840.1 1088.4,837.6 1085.6,835.8 1083.9,833.0 1081.5,830.8 1084.5,831.3 1087.4,832.9 1090.5,832.5 1093.6,833.1 1096.6,833.5 1100.1,833.6 1103.5,833.8 1107.0,833.7 1110.5,833.7 1113.9,833.6 1117.4,833.5 1117.4,828.0 1122.9,829.8 1117.4,828.0 1114.2,827.1 1111.1,825.7 1107.8,824.8 1104.3,825.0 1101.3,828.8 1103.7,824.8 1101.1,823.9 1103.5,822.0 1100.5,823.7 1098.0,822.5 1096.1,825.2 1097.4,822.3 1096.2,819.7 1094.8,816.7 1092.5,814.2 1095.3,812.8 1098.0,811.4 1101.1,811.5 1104.0,812.6 1106.9,813.3 1110.1,812.8 1113.1,812.9 1116.0,814.2 1120.2,816.9 1124.3,814.2 1127.4,813.4 1130.6,813.7 1133.6,813.1 1136.8,813.5 1140.0,813.7 1142.9,811.8 1146.0,811.3 1149.2,811.4 1146.3,809.9 1142.8,813.4 1146.3,809.4 1143.6,808.1 1140.7,806.6 1138.2,804.5 1142.3,800.3 1145.6,799.5 1148.8,798.5 1149.7,802.1 1149.1,798.4 1152.3,798.8 1155.7,798.9 1158.9,797.5 1155.5,795.9 1152.0,794.8 1148.3,793.5 1144.6,792.0 1140.9,790.6 1145.1,787.8 1146.9,791.9 1145.3,787.6 1148.0,785.7 1151.4,784.5 1154.8,783.3 1157.3,787.4 1155.5,783.2 1157.5,780.9 1153.4,776.8 1156.4,778.3 1159.7,779.1 1162.3,781.3 1165.7,782.0 1168.6,783.7 1172.8,782.5 1176.9,780.9 1180.4,779.3 1184.2,778.9 1188.0,778.2 1186.6,772.6 1183.1,769.9 1179.7,767.1 1182.5,762.9 1184.7,760.4 1185.9,757.2 1188.0,754.6 1191.3,757.6 1193.5,761.5 1190.6,764.5 1193.7,762.1 1197.7,757.4 1201.7,756.1 1206.0,756.0" fill="none" stroke="#ff0000" stroke-width="5.2" stroke-linecap="round" stroke-linejoin="miter" stroke-miterlimit="2.5"/>
<polyline points="987.7,903.2 968.8,902.3 996.8,886.4 976.4,886.5 1013.4,888.6 993.1,882.2 1017.5,881.2 1004.3,876.1 1045.2,871.9 1023.8,855.8 1053.1,856.0 1045.2,857.3 1070.7,856.5 1057.0,837.6 1083.5,847.1 1072.5,837.4 1095.4,839.6 1084.6,824.8 1103.5,833.4 1101.5,812.3 1119.7,819.9 1115.1,814.3 1127.0,815.2 1118.1,805.4 1137.7,807.1 1129.7,804.3 1152.4,798.8 1149.6,788.8 1166.3,788.7 1164.8,783.6 1181.7,785.7 1172.6,781.6 1194.9,772.2 1187.2,759.5" fill="none" stroke="#ff0000" stroke-width="5.2" stroke-linecap="round" stroke-linejoin="miter" stroke-miterlimit="2.5"/>
<polyline points="1196.0,762.0 1193.5,761.5 1197.7,757.4 1206.0,756.0" fill="none" stroke="#ff0000" stroke-width="5.2" stroke-linecap="round" stroke-linejoin="miter" stroke-miterlimit="2.5"/>
<rect x="173.1" y="22.7" width="1072.7" height="493.0" fill="none" stroke="#000" stroke-width="4"/>
<line x1="173.1" y1="515.7" x2="173.1" y2="535.7" stroke="#000" stroke-width="4" stroke-linecap="butt"/>
<line x1="173.1" y1="22.7" x2="173.1" y2="3.2" stroke="#000" stroke-width="4" stroke-linecap="butt"/>
<line x1="280.4" y1="515.7" x2="280.4" y2="535.7" stroke="#000" stroke-width="4" stroke-linecap="butt"/>
<line x1="280.4" y1="22.7" x2="280.4" y2="3.2" stroke="#000" stroke-width="4" stroke-linecap="butt"/>
<line x1="387.6" y1="515.7" x2="387.6" y2="535.7" stroke="#000" stroke-width="4" stroke-linecap="butt"/>
<line x1="387.6" y1="22.7" x2="387.6" y2="3.2" stroke="#000" stroke-width="4" stroke-linecap="butt"/>
<line x1="494.9" y1="515.7" x2="494.9" y2="535.7" stroke="#000" stroke-width="4" stroke-linecap="butt"/>
<line x1="494.9" y1="22.7" x2="494.9" y2="3.2" stroke="#000" stroke-width="4" stroke-linecap="butt"/>
<line x1="602.2" y1="515.7" x2="602.2" y2="535.7" stroke="#000" stroke-width="4" stroke-linecap="butt"/>
<line x1="602.2" y1="22.7" x2="602.2" y2="3.2" stroke="#000" stroke-width="4" stroke-linecap="butt"/>
<line x1="709.5" y1="515.7" x2="709.5" y2="535.7" stroke="#000" stroke-width="4" stroke-linecap="butt"/>
<line x1="709.5" y1="22.7" x2="709.5" y2="3.2" stroke="#000" stroke-width="4" stroke-linecap="butt"/>
<line x1="816.7" y1="515.7" x2="816.7" y2="535.7" stroke="#000" stroke-width="4" stroke-linecap="butt"/>
<line x1="816.7" y1="22.7" x2="816.7" y2="3.2" stroke="#000" stroke-width="4" stroke-linecap="butt"/>
<line x1="924.0" y1="515.7" x2="924.0" y2="535.7" stroke="#000" stroke-width="4" stroke-linecap="butt"/>
<line x1="924.0" y1="22.7" x2="924.0" y2="3.2" stroke="#000" stroke-width="4" stroke-linecap="butt"/>
<line x1="1031.3" y1="515.7" x2="1031.3" y2="535.7" stroke="#000" stroke-width="4" stroke-linecap="butt"/>
<line x1="1031.3" y1="22.7" x2="1031.3" y2="3.2" stroke="#000" stroke-width="4" stroke-linecap="butt"/>
<line x1="1138.5" y1="515.7" x2="1138.5" y2="535.7" stroke="#000" stroke-width="4" stroke-linecap="butt"/>
<line x1="1138.5" y1="22.7" x2="1138.5" y2="3.2" stroke="#000" stroke-width="4" stroke-linecap="butt"/>
<line x1="1245.8" y1="515.7" x2="1245.8" y2="535.7" stroke="#000" stroke-width="4" stroke-linecap="butt"/>
<line x1="1245.8" y1="22.7" x2="1245.8" y2="3.2" stroke="#000" stroke-width="4" stroke-linecap="butt"/>
<line x1="173.1" y1="515.7" x2="154.1" y2="515.7" stroke="#000" stroke-width="4" stroke-linecap="butt"/>
<line x1="1245.8" y1="515.7" x2="1264.8" y2="515.7" stroke="#000" stroke-width="4" stroke-linecap="butt"/>
<line x1="173.1" y1="445.3" x2="154.1" y2="445.3" stroke="#000" stroke-width="4" stroke-linecap="butt"/>
<line x1="1245.8" y1="445.3" x2="1264.8" y2="445.3" stroke="#000" stroke-width="4" stroke-linecap="butt"/>
<line x1="173.1" y1="374.8" x2="154.1" y2="374.8" stroke="#000" stroke-width="4" stroke-linecap="butt"/>
<line x1="1245.8" y1="374.8" x2="1264.8" y2="374.8" stroke="#000" stroke-width="4" stroke-linecap="butt"/>
<line x1="173.1" y1="304.4" x2="154.1" y2="304.4" stroke="#000" stroke-width="4" stroke-linecap="butt"/>
<line x1="1245.8" y1="304.4" x2="1264.8" y2="304.4" stroke="#000" stroke-width="4" stroke-linecap="butt"/>
<line x1="173.1" y1="234.0" x2="154.1" y2="234.0" stroke="#000" stroke-width="4" stroke-linecap="butt"/>
<line x1="1245.8" y1="234.0" x2="1264.8" y2="234.0" stroke="#000" stroke-width="4" stroke-linecap="butt"/>
<line x1="173.1" y1="163.6" x2="154.1" y2="163.6" stroke="#000" stroke-width="4" stroke-linecap="butt"/>
<line x1="1245.8" y1="163.6" x2="1264.8" y2="163.6" stroke="#000" stroke-width="4" stroke-linecap="butt"/>
<line x1="173.1" y1="93.1" x2="154.1" y2="93.1" stroke="#000" stroke-width="4" stroke-linecap="butt"/>
<line x1="1245.8" y1="93.1" x2="1264.8" y2="93.1" stroke="#000" stroke-width="4" stroke-linecap="butt"/>
<line x1="173.1" y1="22.7" x2="154.1" y2="22.7" stroke="#000" stroke-width="4" stroke-linecap="butt"/>
<line x1="1245.8" y1="22.7" x2="1264.8" y2="22.7" stroke="#000" stroke-width="4" stroke-linecap="butt"/>
<rect x="190.0" y="694.1" width="1054.8" height="484.9" fill="none" stroke="#000" stroke-width="4"/>
<line x1="190.0" y1="1179.0" x2="190.0" y2="1198.0" stroke="#000" stroke-width="4" stroke-linecap="butt"/>
<line x1="190.0" y1="694.1" x2="190.0" y2="675.1" stroke="#000" stroke-width="4" stroke-linecap="butt"/>
<line x1="401.0" y1="1179.0" x2="401.0" y2="1198.0" stroke="#000" stroke-width="4" stroke-linecap="butt"/>
<line x1="401.0" y1="694.1" x2="401.0" y2="675.1" stroke="#000" stroke-width="4" stroke-linecap="butt"/>
<line x1="611.9" y1="1179.0" x2="611.9" y2="1198.0" stroke="#000" stroke-width="4" stroke-linecap="butt"/>
<line x1="611.9" y1="694.1" x2="611.9" y2="675.1" stroke="#000" stroke-width="4" stroke-linecap="butt"/>
<line x1="822.9" y1="1179.0" x2="822.9" y2="1198.0" stroke="#000" stroke-width="4" stroke-linecap="butt"/>
<line x1="822.9" y1="694.1" x2="822.9" y2="675.1" stroke="#000" stroke-width="4" stroke-linecap="butt"/>
<line x1="1033.8" y1="1179.0" x2="1033.8" y2="1198.0" stroke="#000" stroke-width="4" stroke-linecap="butt"/>
<line x1="1033.8" y1="694.1" x2="1033.8" y2="675.1" stroke="#000" stroke-width="4" stroke-linecap="butt"/>
<line x1="1244.8" y1="1179.0" x2="1244.8" y2="1198.0" stroke="#000" stroke-width="4" stroke-linecap="butt"/>
<line x1="1244.8" y1="694.1" x2="1244.8" y2="675.1" stroke="#000" stroke-width="4" stroke-linecap="butt"/>
<line x1="190.0" y1="1179.0" x2="171.0" y2="1179.0" stroke="#000" stroke-width="4" stroke-linecap="butt"/>
<line x1="1244.8" y1="1179.0" x2="1263.8" y2="1179.0" stroke="#000" stroke-width="4" stroke-linecap="butt"/>
<line x1="190.0" y1="1017.4" x2="171.0" y2="1017.4" stroke="#000" stroke-width="4" stroke-linecap="butt"/>
<line x1="1244.8" y1="1017.4" x2="1263.8" y2="1017.4" stroke="#000" stroke-width="4" stroke-linecap="butt"/>
<line x1="190.0" y1="855.7" x2="171.0" y2="855.7" stroke="#000" stroke-width="4" stroke-linecap="butt"/>
<line x1="1244.8" y1="855.7" x2="1263.8" y2="855.7" stroke="#000" stroke-width="4" stroke-linecap="butt"/>
<line x1="190.0" y1="694.1" x2="171.0" y2="694.1" stroke="#000" stroke-width="4" stroke-linecap="butt"/>
<line x1="1244.8" y1="694.1" x2="1263.8" y2="694.1" stroke="#000" stroke-width="4" stroke-linecap="butt"/>
<text transform="translate(170.1,577.64) scale(1,1.04)" font-size="46" text-anchor="middle" >0.25</text>
<text transform="translate(277.4,577.64) scale(1,1.04)" font-size="46" text-anchor="middle" >0.3</text>
<text transform="translate(384.6,577.64) scale(1,1.04)" font-size="46" text-anchor="middle" >0.35</text>
<text transform="translate(491.9,577.64) scale(1,1.04)" font-size="46" text-anchor="middle" >0.4</text>
<text transform="translate(599.2,577.64) scale(1,1.04)" font-size="46" text-anchor="middle" >0.45</text>
<text transform="translate(706.5,577.64) scale(1,1.04)" font-size="46" text-anchor="middle" >0.5</text>
<text transform="translate(813.7,577.64) scale(1,1.04)" font-size="46" text-anchor="middle" >0.55</text>
<text transform="translate(921.0,577.64) scale(1,1.04)" font-size="46" text-anchor="middle" >0.6</text>
<text transform="translate(1028.3,577.64) scale(1,1.04)" font-size="46" text-anchor="middle" >0.65</text>
<text transform="translate(1135.5,577.64) scale(1,1.04)" font-size="46" text-anchor="middle" >0.7</text>
<text transform="translate(1242.8,577.64) scale(1,1.04)" font-size="46" text-anchor="middle" >0.75</text>
<text transform="translate(141.5,536.64) scale(1,1.04)" font-size="46" text-anchor="end" >0.2</text>
<text transform="translate(141.5,466.22) scale(1,1.04)" font-size="46" text-anchor="end" >0.25</text>
<text transform="translate(141.5,395.79) scale(1,1.04)" font-size="46" text-anchor="end" >0.3</text>
<text transform="translate(141.5,325.36) scale(1,1.04)" font-size="46" text-anchor="end" >0.35</text>
<text transform="translate(141.5,254.93) scale(1,1.04)" font-size="46" text-anchor="end" >0.4</text>
<text transform="translate(141.5,184.50) scale(1,1.04)" font-size="46" text-anchor="end" >0.45</text>
<text transform="translate(141.5,114.07) scale(1,1.04)" font-size="46" text-anchor="end" >0.5</text>
<text transform="translate(141.5,43.64) scale(1,1.04)" font-size="46" text-anchor="end" >0.55</text>
<text transform="translate(705.3,649.80) scale(1,1.04)" font-size="57" text-anchor="middle" >X / Cell Length</text>
<text transform="translate(44.00,271.7) rotate(-90) scale(1,1.04)" font-size="57" text-anchor="middle">Y / Cell Width</text>
<text transform="translate(244.5,1239.63) scale(1,1.04)" font-size="45" text-anchor="end" >-0.005</text>
<text transform="translate(396.7,1239.63) scale(1,1.04)" font-size="45" text-anchor="middle" >0.005</text>
<text transform="translate(607.6,1239.63) scale(1,1.04)" font-size="45" text-anchor="middle" >0.015</text>
<text transform="translate(818.6,1239.63) scale(1,1.04)" font-size="45" text-anchor="middle" >0.025</text>
<text transform="translate(1029.5,1239.63) scale(1,1.04)" font-size="45" text-anchor="middle" >0.035</text>
<text transform="translate(1240.5,1239.63) scale(1,1.04)" font-size="45" text-anchor="middle" >0.045</text>
<text transform="translate(163.5,1193.23) scale(1,1.04)" font-size="45" text-anchor="end" >-0.002</text>
<text transform="translate(163.5,1031.60) scale(1,1.04)" font-size="45" text-anchor="end" >0.004</text>
<text transform="translate(163.5,869.96) scale(1,1.04)" font-size="45" text-anchor="end" >0.01</text>
<text transform="translate(163.5,708.33) scale(1,1.04)" font-size="45" text-anchor="end" >0.016</text>
<text transform="translate(714.5,1310.09) scale(1,1.04)" font-size="56.5" text-anchor="middle"><tspan font-family="Liberation Serif, serif">&#916;</tspan>X / Cell Length</text>
<text transform="translate(53.09,939) rotate(-90) scale(1,1.04)" font-size="56.5" text-anchor="middle"><tspan font-family="Liberation Serif, serif">&#916;</tspan>Y / Cell Width</text>
</svg>
</body></html>
